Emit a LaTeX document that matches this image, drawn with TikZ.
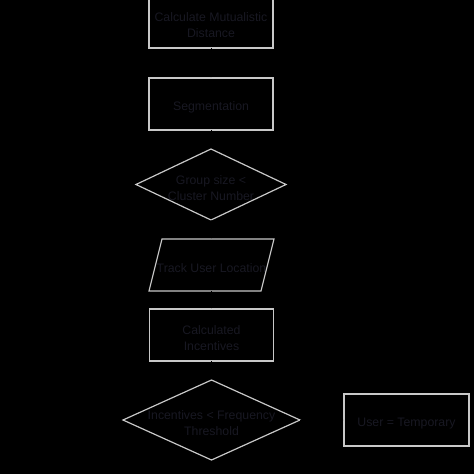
\documentclass[tikz,border=0pt]{standalone}
\usepackage{fontspec}
\setmainfont{Liberation Sans}
\usetikzlibrary{shapes.geometric,arrows.meta}
\definecolor{edgegray}{HTML}{C8C8C8}
\definecolor{txtdark}{HTML}{181822}
\tikzset{
  shapebase/.style={draw=edgegray, line width=1.2pt, inner sep=0pt, outer sep=0pt},
  procbox/.style={shapebase, rectangle, minimum width=124pt, minimum height=52pt},
  decision/.style={shapebase, diamond},
  iobox/.style={rectangle, inner sep=0pt, outer sep=0pt, minimum width=125pt, minimum height=52pt},
  lbl/.style={text=txtdark, font=\fontsize{12.3}{16}\selectfont, align=center, yshift=-3.5pt},
  flow/.style={draw=black, line width=1pt, -{Latex[length=5pt]}}
}
\begin{document}
\begin{tikzpicture}[x=1pt,y=-1pt]
\fill[black] (0,0) rectangle (474,474);
\useasboundingbox (0,0) rectangle (474,474);
\begin{scope}
\clip (0,0) rectangle (474,474);
\node[procbox, label={[lbl]center:Calculate Mutualistic\\Distance}] (calc) at (211,22) {};
\node[procbox, label={[lbl]center:Segmentation}] (seg) at (211,104) {};
\node[decision, minimum width=150pt, minimum height=71pt, label={[lbl]center:Group size <\\Cluster Number}] (grp) at (211,184.5) {};
\node[iobox, label={[lbl]center:Track User Location}] (track) at (211.5,265) {};
\draw[shapebase] ([xshift=13pt]track.north west) -- (track.north east) -- ([xshift=-13pt]track.south east) -- (track.south west) -- cycle;
\node[procbox, label={[lbl]center:Calculated\\Incentives}] (inc) at (211.5,335) {};
\node[decision, minimum width=177pt, minimum height=80pt, label={[lbl]center:Incentives < Frequency\\Threshold}] (thr) at (211.5,420) {};
\node[procbox, minimum width=125pt, label={[lbl]center:User = Temporary}] (temp) at (406.5,420) {};
\draw[flow] (calc) -- (seg);
\draw[flow] (seg) -- (grp);
\draw[flow] (grp) -- (track);
\draw[flow] (track) -- (inc);
\draw[flow] (inc) -- (thr);
\draw[flow] (thr) -- (temp);
\end{scope}
\end{tikzpicture}
\end{document}
